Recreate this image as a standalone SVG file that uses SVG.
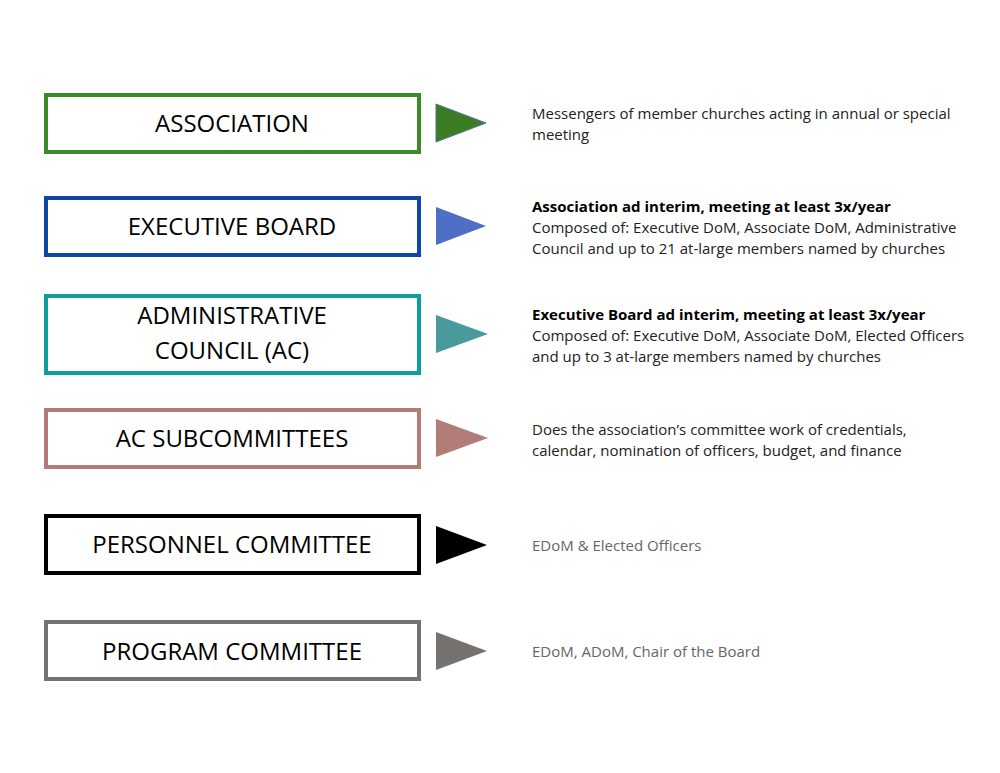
<svg xmlns="http://www.w3.org/2000/svg" width="1000" height="773" viewBox="0 0 1000 773">
<style>
.box{fill:#fff;stroke-width:4}
.t{font-family:"Open Sans",sans-serif;font-size:24px;fill:#000;text-anchor:middle}
.d{font-family:"Open Sans",sans-serif;font-size:15px;fill:#222}
.g{font-family:"Open Sans",sans-serif;font-size:15px;fill:#666}
.b{font-weight:bold;fill:#000}
.tri{stroke:#5a6fa0;stroke-width:1}
</style>
<rect width="1000" height="773" fill="#fff"/>
<g id="association"><rect class="box" x="46" y="95" width="373" height="57" stroke="#3a8a2a"/><text class="t" x="232" y="132">ASSOCIATION</text></g>
<g id="executive-board"><rect class="box" x="46" y="198" width="373" height="57" stroke="#0e47a8"/><text class="t" x="232" y="235">EXECUTIVE BOARD</text></g>
<g id="administrative-council"><rect class="box" x="46" y="296" width="373" height="77" stroke="#0f9ea0"/><text class="t" x="232" y="324">ADMINISTRATIVE</text><text class="t" x="232" y="359">COUNCIL (AC)</text></g>
<g id="ac-subcommittees"><rect class="box" x="46" y="410" width="373" height="57" stroke="#b47a78"/><text class="t" x="232" y="447">AC SUBCOMMITTEES</text></g>
<g id="personnel-committee"><rect class="box" x="46" y="516" width="373" height="57" stroke="#000"/><text class="t" x="232" y="553">PERSONNEL COMMITTEE</text></g>
<g id="program-committee"><rect class="box" x="46" y="622" width="373" height="57" stroke="#737373"/><text class="t" x="232" y="660">PROGRAM COMMITTEE</text></g>
<g id="connectors">
<polygon class="tri" points="436,104 486,123 436,142" fill="#3a7d22"/>
<polygon points="436,207 486,226 436,245" fill="#4f6fc4"/>
<polygon points="436,315 488,334 436,353" fill="#4a9a9c"/>
<polygon points="436,419 488,438 436,457" fill="#b27c78"/>
<polygon points="436,526 487,545 436,564" fill="#000"/>
<polygon points="436,632 487,651 436,670" fill="#767270"/>
</g>
<g id="descriptions">
<text class="d" x="532" y="119">Messengers of member churches acting in annual or special</text>
<text class="d" x="532" y="140">meeting</text>
<text class="d b" x="532" y="212">Association ad interim, meeting at least 3x/year</text>
<text class="d" x="532" y="233">Composed of: Executive DoM, Associate DoM, Administrative</text>
<text class="d" x="532" y="254">Council and up to 21 at-large members named by churches</text>
<text class="d b" x="532" y="320">Executive Board ad interim, meeting at least 3x/year</text>
<text class="d" x="532" y="341">Composed of: Executive DoM, Associate DoM, Elected Officers</text>
<text class="d" x="532" y="362">and up to 3 at-large members named by churches</text>
<text class="d" x="532" y="435">Does the association’s committee work of credentials,</text>
<text class="d" x="532" y="456">calendar, nomination of officers, budget, and finance</text>
<text class="g" x="532" y="551">EDoM &amp; Elected Officers</text>
<text class="g" x="532" y="657">EDoM, ADoM, Chair of the Board</text>
</g>
</svg>
